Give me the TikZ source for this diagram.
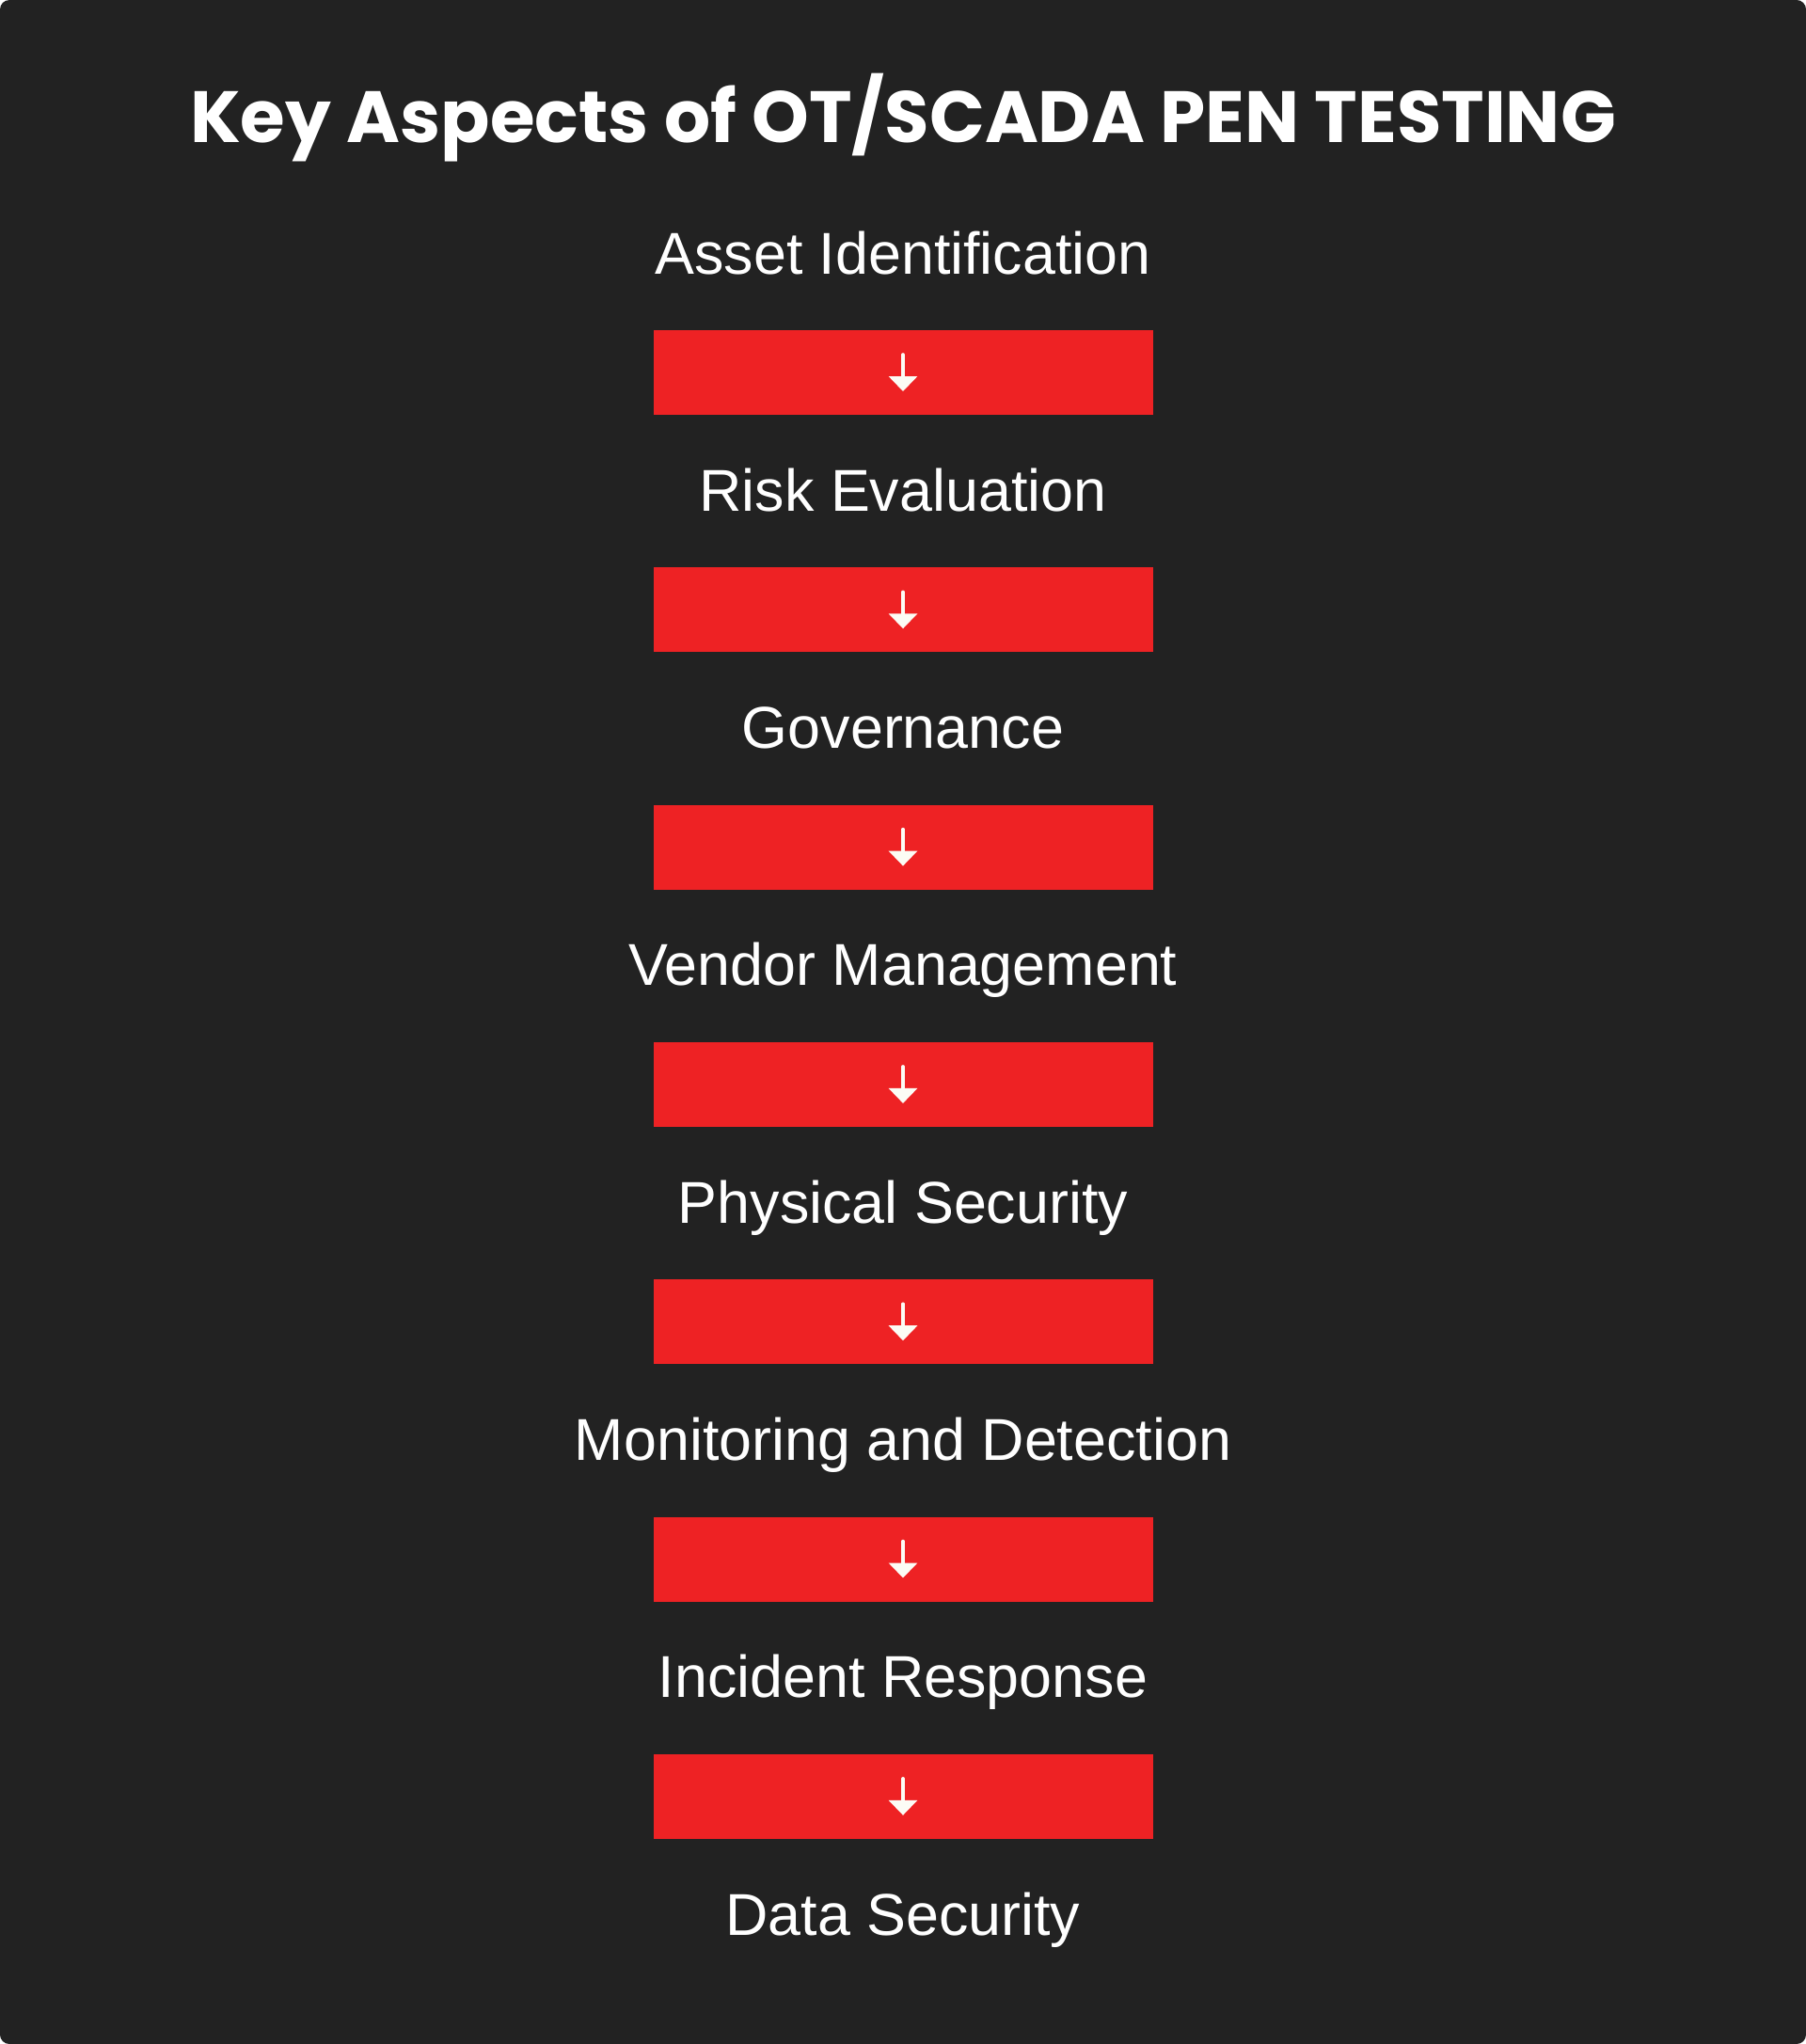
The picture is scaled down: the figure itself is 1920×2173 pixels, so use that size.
\documentclass[tikz,border=0pt]{standalone}
\usepackage{fontspec}
\setmainfont{Liberation Sans}
\newfontfamily\titlefont{Poppins}
\usetikzlibrary{arrows.meta}

\definecolor{bgdark}{HTML}{222222}
\definecolor{barred}{HTML}{EE2224}
\definecolor{tipwhite}{HTML}{FCFCF5}

\begin{document}
\begin{tikzpicture}[x=0.5pt,y=-0.5pt]
    \fill[white] (0,0) rectangle (1920,2173);
    \fill[bgdark, rounded corners=5pt] (0,0) rectangle (1920,2173);
    \begin{scope}[step label/.style={text=white, anchor=base, inner sep=0pt, font=\fontsize{31.4}{36}\selectfont},
                  bar/.style={fill=barred, minimum width=265.5pt, minimum height=45pt, inner sep=0pt},
                  down/.style={-{Triangle[width=15pt,length=8pt]}, draw=tipwhite, line width=1.8pt}]
        \node[text=white, anchor=base, inner sep=0pt, font=\titlefont\bfseries\fontsize{38.6}{46}\selectfont] (title) at (960, 152) {Key Aspects of OT/SCADA PEN TESTING};
        \node[step label] (s1) at (960, 291) {Asset Identification};
        \node[step label] (s2) at (960, 543.3) {Risk Evaluation};
        \node[step label] (s3) at (960, 795.6) {Governance};
        \node[step label] (s4) at (960, 1047.9) {Vendor Management};
        \node[step label] (s5) at (960, 1300.2) {Physical Security};
        \node[step label] (s6) at (960, 1552.5) {Monitoring and Detection};
        \node[step label] (s7) at (960, 1804.8) {Incident Response};
        \node[step label] (s8) at (960, 2057.1) {Data Security};
        \node[bar] (b1) at (960, 396) {};
        \node[bar] (b2) at (960, 648.3) {};
        \node[bar] (b3) at (960, 900.6) {};
        \node[bar] (b4) at (960, 1152.9) {};
        \node[bar] (b5) at (960, 1405.2) {};
        \node[bar] (b6) at (960, 1657.5) {};
        \node[bar] (b7) at (960, 1909.8) {};
        \begin{scope}[line cap=round]
        \path[down] ([yshift=9.5pt]b1.center) -- ([yshift=-10pt]b1.center);
        \path[down] ([yshift=9.5pt]b2.center) -- ([yshift=-10pt]b2.center);
        \path[down] ([yshift=9.5pt]b3.center) -- ([yshift=-10pt]b3.center);
        \path[down] ([yshift=9.5pt]b4.center) -- ([yshift=-10pt]b4.center);
        \path[down] ([yshift=9.5pt]b5.center) -- ([yshift=-10pt]b5.center);
        \path[down] ([yshift=9.5pt]b6.center) -- ([yshift=-10pt]b6.center);
        \path[down] ([yshift=9.5pt]b7.center) -- ([yshift=-10pt]b7.center);
        \end{scope}
    \end{scope}
\end{tikzpicture}
\end{document}
